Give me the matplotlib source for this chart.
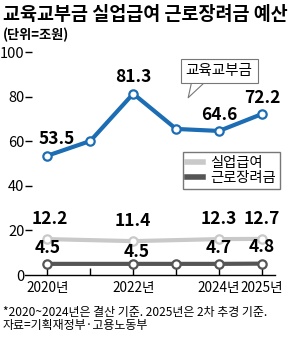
import matplotlib.pyplot as plt
from matplotlib.lines import Line2D

plt.rcParams['font.family'] = ['Noto Sans CJK KR', 'DejaVu Sans']

years = [2020, 2021, 2022, 2023, 2024, 2025]
edu = [53.5, 60.1, 81.3, 65.5, 64.6, 72.2]
edu_labels = {2020: '53.5', 2022: '81.3', 2024: '64.6', 2025: '72.2'}

# light grey line sits a bit above its printed values in the original
unemp_years = [2020, 2022, 2024, 2025]
unemp = [16.1, 15.2, 16.1, 16.2]
unemp_labels = ['12.2', '11.4', '12.3', '12.7']

eitc_years = [2020, 2022, 2023, 2024, 2025]
eitc = [5.0, 5.0, 5.0, 5.0, 5.1]
eitc_labels = {2020: '4.5', 2022: '4.5', 2024: '4.7', 2025: '4.8'}

yticks = [0, 20, 40, 60, 80, 100]
xticks = [2020, 2022, 2024, 2025]

blue = '#1c6db3'
light = '#c9c9c9'
dark = '#555555'

fig = plt.figure(figsize=(2.91, 3.41), dpi=100)
ax = fig.add_axes([0.0876, 0.1935, 0.857, 0.654])
ax.set_xlim(2019.49, 2025.3)
ax.set_ylim(0, 100)

mk = dict(marker='o', markersize=6, markerfacecolor='white', markeredgewidth=1.6)
ax.plot(years, edu, color=blue, lw=3, markeredgecolor=blue, **mk, zorder=4)
ax.plot(unemp_years, unemp, color=light, lw=3, markeredgecolor=light, **mk, zorder=3)
ax.plot(eitc_years, eitc, color=dark, lw=3, markeredgecolor=dark, **mk, zorder=3)

lab = dict(ha='center', va='bottom', fontsize=12.5, fontweight='bold')
for x, y in zip(years, edu):
    if x in edu_labels:
        dx = 0.22 if x == 2020 else 0
        ax.text(x + dx, y + 3.3, edu_labels[x], **lab)
for x, y, s in zip(unemp_years, unemp, unemp_labels):
    ax.text(x + (0.05 if x == 2020 else 0), y + 5, s, **lab)
for x, y in zip(eitc_years, eitc):
    if x in eitc_labels:
        dy = 1.3 if x == 2022 else 3.3
        ax.text(x + (0.08 if x == 2022 else 0), y + dy, eitc_labels[x], **lab)

for s in ['top', 'right', 'left']:
    ax.spines[s].set_visible(False)
ax.spines['bottom'].set_linewidth(1)

ax.set_yticks(yticks)
ax.set_yticklabels([str(v) for v in yticks], fontsize=10.5)
ax.tick_params(axis='y', direction='in', length=5, width=1, pad=0.8)
ax.yaxis.get_major_ticks()[0].tick1line.set_visible(False)

ax.set_xticks(years)
ax.set_xticklabels([f'{y}년' if y in xticks else '' for y in years], fontsize=9.8)
ax.tick_params(axis='x', direction='in', length=5, width=1, pad=4)

# speech-bubble callout
ax.text(2024.0, 91.5, '교육교부금', ha='center', va='center', fontsize=10.5,
        bbox=dict(boxstyle='square,pad=0.35', fc='white', ec='#777777', lw=0.8),
        zorder=5)
tail_x = [2023.35, 2023.28, 2023.62]
tail_y = [85.6, 79.5, 85.6]
ax.fill(tail_x, tail_y, color='white', zorder=6, lw=0)
ax.plot(tail_x, tail_y, color='#777777', lw=0.8, zorder=7)

handles = [Line2D([], [], color=light, lw=4), Line2D([], [], color=dark, lw=4)]
ax.legend(handles, ['실업급여', '근로장려금'], loc='upper left',
          bbox_to_anchor=(0.629, 0.554), bbox_transform=fig.transFigure,
          borderaxespad=0, fontsize=10.3, frameon=True, fancybox=False,
          edgecolor='#777777', handlelength=1.1, handletextpad=0.5,
          borderpad=0.3, labelspacing=0.05, framealpha=1)

fig.text(0.01, 0.985, '교육교부금 실업급여 근로장려금 예산', ha='left', va='top',
         fontsize=13.3, fontweight='black')
fig.text(0.01, 0.918, '(단위=조원)', ha='left', va='top', fontsize=9.5,
         fontweight='bold')
fig.text(0.01, 0.085, '*2020~2024년은 결산 기준. 2025년은 2차 추경 기준.',
         ha='left', va='center', fontsize=8.6)
fig.text(0.01, 0.045, '자료=기획재정부·고용노동부', ha='left', va='center',
         fontsize=8.6)

fig.savefig('out.png', dpi=100)
